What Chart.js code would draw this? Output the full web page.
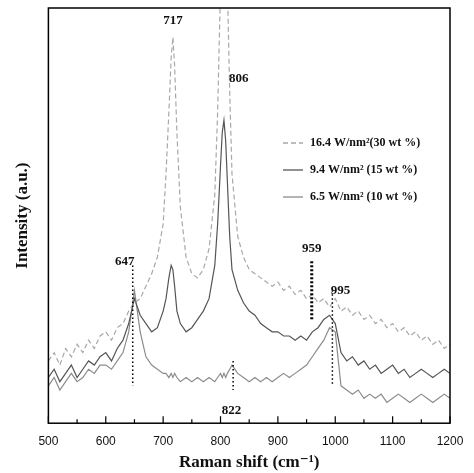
<!DOCTYPE html>
<html><head><meta charset="utf-8">
<script src="https://cdn.jsdelivr.net/npm/chart.js@4"></script>
<style>html,body{margin:0;background:#fff}#w{width:474px;height:473px}</style>
</head><body><div id="w"><canvas id="c"></canvas></div>
<script>
const shifts=[500,510,520,530,540,550,560,570,580,590,600,610,620,630,640,650,660,670,680,690,700,
705,710,714,717,720,724,730,740,750,760,770,780,790,795,800,803,806,809,812,816,820,
830,840,850,860,870,880,890,900,910,920,930,940,950,960,970,980,990,1000,1010,1020,
1030,1040,1050,1060,1070,1080,1090,1100,1110,1120,1130,1140,1150,1160,1170,1180,1190,1200];
const s30=[15,17,14,18,16,19,17,20,18,21,22,20,23,24,27,29,30,33,36,40,48,
60,75,88,93,86,70,52,40,36,35,37,42,55,75,105,120,125,120,105,80,60,
45,40,37,36,35,34,33,34,32,33,31,32,30,31,29,30,28,30,27,28,
26,27,25,26,24,25,23,24,22,23,21,22,20,21,19,20,18,19];
const s15=[11,13,10,12,14,11,13,15,14,16,17,15,18,20,24,30,26,24,22,23,27,
30,35,38,37,33,27,24,22,23,25,27,30,38,48,62,70,73,68,58,45,37,
32,29,27,26,24,23,22,22,21,21,20,21,20,22,23,25,26,24,17,15,
16,14,15,13,14,12,13,14,12,13,11,12,13,12,11,12,13,12];
const s10=[9,11,8,10,12,10,11,13,12,14,14,13,15,17,22,32,22,16,14,13,12,
12,11,12,11,12,11,10,11,10,11,10,11,10,11,12,11,12,11,12,13,14,
12,11,10,11,10,11,10,11,12,11,12,13,14,16,18,20,23,22,9,8,
7,8,6,7,6,7,5,6,7,6,5,6,7,6,5,6,7,6];
const legendLabels=['16.4 W/nm²(30 wt %)','9.4 W/nm² (15 wt %)','6.5 W/nm² (10 wt %)'];
const xTicks=[500,600,700,800,900,1000,1100,1200];
const marks=[{x:647,y0:38,y1:9,label:'647',lx:-14,ly:39},{x:959,y0:39,y1:25,label:'959',lx:0,ly:42,thick:true},
{x:995,y0:32,y1:9,label:'995',lx:14,ly:32},{x:822,y0:15,y1:8,label:'822',lx:-3,ly:3}];
const peakLabels=[{x:717,y:97,t:'717'},{x:832,y:83,t:'806'}];
const mk=(d)=>shifts.map((x,i)=>({x,y:d[i]}));
const serif='"Liberation Serif","DejaVu Serif",serif';
const deco={id:'deco',afterDatasetsDraw(ch){
 const {ctx,chartArea:a,scales:{x,y}}=ch;ctx.save();
 ctx.strokeStyle='#000';ctx.lineWidth=1.5;ctx.strokeRect(a.left,a.top,a.right-a.left,a.bottom-a.top);
 ctx.lineWidth=1.2;
 for(let v=500;v<=1200;v+=50){const px=x.getPixelForValue(v);const L=v%100?4:7;
  ctx.beginPath();ctx.moveTo(px,a.bottom);ctx.lineTo(px,a.bottom-L);ctx.stroke();}
 ctx.fillStyle='#111';ctx.font='bold 13px '+serif;ctx.textAlign='center';ctx.textBaseline='middle';
 marks.forEach(m=>{const px=x.getPixelForValue(m.x);ctx.setLineDash(m.thick?[2,2]:[1.5,2.5]);ctx.lineWidth=m.thick?3:1.5;
  ctx.beginPath();ctx.moveTo(px,y.getPixelForValue(m.y0));ctx.lineTo(px,y.getPixelForValue(m.y1));ctx.stroke();
  ctx.fillText(m.label,x.getPixelForValue(m.x+m.lx),y.getPixelForValue(m.ly));});
 ctx.setLineDash([]);
 peakLabels.forEach(p=>ctx.fillText(p.t,x.getPixelForValue(p.x),y.getPixelForValue(p.y)));
 const cols=['#a8a8a8','#555','#8c8c8c'],dash=[[5,3],[],[]];ctx.textAlign='left';ctx.font='bold 12px '+serif;
 legendLabels.forEach((t,i)=>{const yy=143+i*27;ctx.strokeStyle=cols[i];ctx.lineWidth=1.3;ctx.setLineDash(dash[i]);
  ctx.beginPath();ctx.moveTo(283,yy);ctx.lineTo(303,yy);ctx.stroke();ctx.fillText(t,310,yy);});
 ctx.restore();}};
new Chart(document.getElementById('c'),{type:'line',
 data:{datasets:[
  {data:mk(s30),borderColor:'#a8a8a8',borderDash:[5,3],borderWidth:1.2},
  {data:mk(s15),borderColor:'#555',borderWidth:1.2},
  {data:mk(s10),borderColor:'#8c8c8c',borderWidth:1.2}]},
 options:{animation:false,responsive:true,maintainAspectRatio:false,
  elements:{point:{radius:0},line:{tension:0}},
  layout:{padding:{top:8,right:24,left:8,bottom:0}},
  plugins:{legend:{display:false},tooltip:{enabled:false}},
  scales:{
   x:{type:'linear',min:500,max:1200,grid:{display:false},border:{display:false},
    afterBuildTicks:(s)=>{s.ticks=xTicks.map(v=>({value:v}));},
    ticks:{color:'#111',font:{family:'"Liberation Sans",Arial,sans-serif',size:12},padding:3,callback:(v)=>String(v)},
    title:{display:true,text:'Raman shift (cm⁻¹)',font:{family:serif,size:17,weight:'bold'},color:'#111',padding:{top:1,bottom:0}}},
   y:{min:0,max:100,grid:{display:false},border:{display:false},ticks:{display:false},
    title:{display:true,text:'Intensity (a.u.)',font:{family:serif,size:17,weight:'bold'},color:'#111',padding:{bottom:8}}}}},
 plugins:[deco]});
</script></body></html>
